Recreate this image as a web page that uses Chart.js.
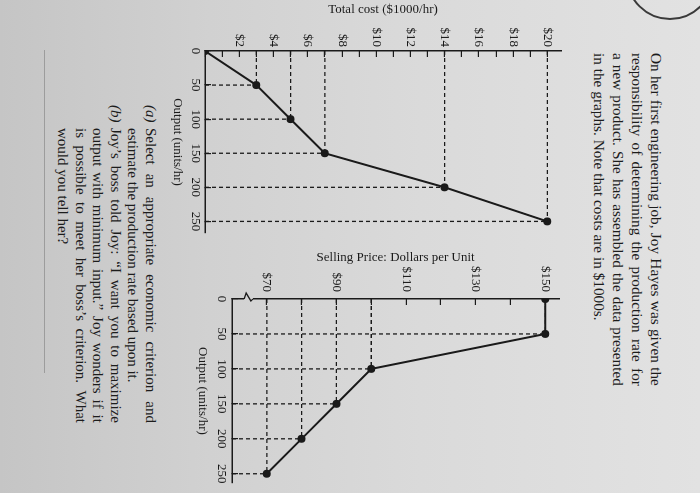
<!DOCTYPE html>
<html>
<head>
<meta charset="utf-8">
<script src="https://cdn.jsdelivr.net/npm/chart.js@4.4.0/dist/chart.umd.min.js"></script>
<style>
    html, body { margin: 0; padding: 0; }
    body {
        width: 700px; height: 493px; overflow: hidden; position: relative;
        background: linear-gradient(90deg, #c5c5c5 0%, #d1d1d1 30%, #dadada 60%, #e2e2e2 100%);
        font-family: "Liberation Serif", "DejaVu Serif", serif; color: #1c1c1c;
    }
    /* the photo shows the page turned a quarter turn clockwise */
    #page {
        position: absolute; left: 0; top: 0; width: 493px; height: 700px;
        transform-origin: 0 0; transform: translate(700px, 0) rotate(90deg);
    }
    #costBox { position: absolute; left: 0; top: 120px; width: 245px; height: 420px; }
    #priceBox { position: absolute; left: 250px; top: 120px; width: 243px; height: 390px; }
    .intro { position: absolute; left: 53px; top: 34px; width: 333px; font-size: 15.3px; line-height: 19px; }
    .quest { position: absolute; left: 128px; top: 541px; width: 295px; font-size: 15px; line-height: 17.6px; }
    .line { position: relative; display: flex; justify-content: space-between; white-space: nowrap; }
    .line.last { justify-content: flex-start; }
    .line.last span { margin-right: 0.25em; }
    .line .tag { position: absolute; left: -23px; top: 0; font-style: italic; }
    .rule { position: absolute; left: 50px; top: 655px; width: 323px; height: 1px; background: #9c9c9c; }
    .pen { position: absolute; left: 626px; top: -68px; width: 84px; height: 84px; border: 2px solid #3a3a3a; border-radius: 50%; }
</style>
</head>
<body>
<div class="pen"></div>
<div id="page">
    <div class="intro">
        <div class="line">On her first engineering job, Joy Hayes was given the</div>
        <div class="line">responsibility of determining the production rate for</div>
        <div class="line">a new product. She has assembled the data presented</div>
        <div class="line last">in the graphs. Note that costs are in $1000s.</div>
    </div>
    <div id="costBox"><canvas id="costChart" width="245" height="420"></canvas></div>
    <div id="priceBox"><canvas id="priceChart" width="243" height="390"></canvas></div>
    <div class="quest">
        <div class="line"><span class="tag">(a)</span>Select an appropriate economic criterion and</div>
        <div class="line last">estimate the production rate based upon it.</div>
        <div class="line"><span class="tag">(b)</span>Joy’s boss told Joy: “I want you to maximize</div>
        <div class="line">output with minimum input.” Joy wonders if it</div>
        <div class="line">is possible to meet her boss’s criterion. What</div>
        <div class="line last">would you tell her?</div>
    </div>
    <div class="rule"></div>
</div>

<script>
// data
var outputRate = [0, 50, 100, 150, 200, 250];          // units/hr
var totalCost = [0, 3, 5, 7, 14, 20];                   // $1000/hr
var sellingPrice = [150, 150, 100, 90, 80, 70];         // $ per unit
var outputTicks = [0, 50, 100, 150, 200, 250];
var costLabels = [2, 4, 6, 8, 10, 12, 14, 16, 18, 20];
var priceLabels = [70, 90, 110, 130, 150];

var ink = '#1a1a1a';
var serif = 'Liberation Serif';

// split each text line into word spans so flex can justify it
document.querySelectorAll('.line').forEach(function (el) {
    var text = el.lastChild.textContent.trim();
    el.lastChild.remove();
    text.split(' ').forEach(function (w) {
        var s = document.createElement('span');
        s.textContent = w;
        el.appendChild(s);
    });
});

function points(xs, ys) {
    var pts = [];
    for (var i = 0; i < xs.length; i++) {
        pts.push({ x: xs[i], y: ys[i] });
    }
    return pts;
}

function dashed(pts) {
    return {
        data: pts, showLine: true, pointRadius: 0,
        borderColor: ink, borderWidth: 1.3, borderDash: [4, 3]
    };
}

// dotted guide lines from each point back to both axes
function dropLines(xs, ys, xBase, yBase) {
    var sets = [];
    for (var i = 0; i < xs.length; i++) {
        if (xs[i] === xBase) continue;
        sets.push(dashed([{ x: xs[i], y: yBase }, { x: xs[i], y: ys[i] }]));
        sets.push(dashed([{ x: xBase, y: ys[i] }, { x: xs[i], y: ys[i] }]));
    }
    return sets;
}

function mainLine(xs, ys) {
    return {
        data: points(xs, ys), showLine: true,
        borderColor: ink, borderWidth: 2,
        pointRadius: 3, pointBackgroundColor: ink, pointBorderColor: ink
    };
}

function axisStyle() {
    return {
        grid: { drawOnChartArea: false, drawTicks: true, tickLength: -6, color: ink, lineWidth: 1.2 },
        border: { display: true, color: ink, width: 1.5 }
    };
}

function outputAxis(max, pad, titlePad, height) {
    var ax = axisStyle();
    ax.type = 'linear';
    ax.min = 0;
    ax.max = max;
    ax.afterBuildTicks = function (scale) {
        scale.ticks = outputTicks.map(function (v) { return { value: v }; });
    };
    ax.ticks = { autoSkip: false, maxRotation: 0, padding: pad, color: ink, font: { family: serif, size: 13 } };
    ax.title = { display: true, text: 'Output (units/hr)', color: ink, font: { family: serif, size: 13 }, padding: { top: 0, bottom: titlePad } };
    ax.afterFit = function (scale) { scale.height = height; };
    return ax;
}

var basicOptions = function (pad, xAxis, yAxis) {
    return {
        responsive: false,
        animation: false,
        devicePixelRatio: 1,
        layout: { padding: pad },
        plugins: { legend: { display: false }, tooltip: { enabled: false } },
        scales: { x: xAxis, y: yAxis }
    };
};

//COST GRAPH
var costY = axisStyle();
costY.min = 0;
costY.max = 20.8;
costY.afterBuildTicks = function (scale) {
    var t = [];
    for (var v = 0; v <= 20; v++) t.push({ value: v });
    scale.ticks = t;
};
costY.ticks = {
    autoSkip: false, padding: 10, color: ink, font: { family: serif, size: 13 },
    callback: function (v) { return costLabels.indexOf(v) >= 0 ? '$' + v : ''; }
};
costY.title = { display: true, text: 'Total cost ($1000/hr)', color: ink, font: { family: serif, size: 13 }, padding: { top: 2, bottom: 0 } };
costY.afterFit = function (scale) { scale.width = 51; };

new Chart(document.getElementById('costChart').getContext('2d'), {
    type: 'scatter',
    data: { datasets: [mainLine(outputRate, totalCost)].concat(dropLines(outputRate, totalCost, 0, 0)) },
    options: basicOptions({ top: 19, right: 12, bottom: 0, left: 0 }, outputAxis(267, 8, 10, 45), costY)
});

//PRICE GRAPH
var priceMin = 60;
var priceY = axisStyle();
priceY.min = priceMin;
priceY.max = 154;
priceY.afterBuildTicks = function (scale) {
    var t = [];
    for (var v = 70; v <= 150; v += 10) t.push({ value: v });
    scale.ticks = t;
};
priceY.ticks = {
    autoSkip: false, padding: 13, color: ink, font: { family: serif, size: 13 },
    callback: function (v) { return priceLabels.indexOf(v) >= 0 ? '$' + v : ''; }
};
priceY.title = { display: true, text: 'Selling Price: Dollars per Unit', color: ink, font: { family: serif, size: 13 }, padding: { top: 0, bottom: 0 } };
priceY.afterFit = function (scale) { scale.width = 49; };

// small zigzag on the price axis: it does not start at zero
var axisBreak = {
    id: 'axisBreak',
    afterDraw: function (chart) {
        var ctx = chart.ctx;
        var ys = chart.scales.y;
        var x0 = chart.chartArea.left;
        var a = ys.getPixelForValue(63.5);
        var b = ys.getPixelForValue(66);
        ctx.save();
        ctx.clearRect(x0 - 3, b, 6, a - b);
        ctx.strokeStyle = ink;
        ctx.lineWidth = 1.3;
        ctx.beginPath();
        ctx.moveTo(x0, a);
        ctx.lineTo(x0 - 6, a - 2);
        ctx.lineTo(x0 + 2, b + 2);
        ctx.lineTo(x0, b);
        ctx.stroke();
        ctx.restore();
    }
};

new Chart(document.getElementById('priceChart').getContext('2d'), {
    type: 'scatter',
    data: { datasets: [mainLine(outputRate, sellingPrice)].concat(dropLines(outputRate, sellingPrice, 0, priceMin)) },
    options: basicOptions({ top: 20, right: 10, bottom: 0, left: 0 }, outputAxis(263, 9, 5, 42), priceY),
    plugins: [axisBreak]
});
</script>
</body>
</html>
